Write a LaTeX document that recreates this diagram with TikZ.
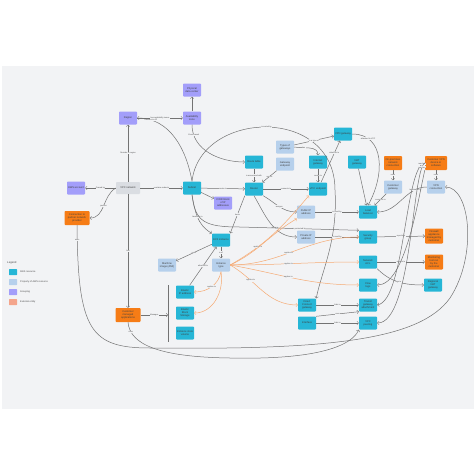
\documentclass[tikz,border=0pt]{standalone}
\usepackage{fontspec}
\setmainfont{Liberation Sans}
\definecolor{bgc}{RGB}{242,243,245}
\definecolor{awsc}{RGB}{38,182,214}
\definecolor{propc}{RGB}{182,208,236}
\definecolor{grpc}{RGB}{163,158,250}
\definecolor{extc}{RGB}{246,124,22}
\definecolor{vpcc}{RGB}{218,221,226}
\definecolor{relc}{RGB}{115,115,115}
\definecolor{depc}{RGB}{246,170,115}
\definecolor{legc}{RGB}{244,165,140}
\tikzstyle{box}=[rectangle, rounded corners=0.8pt, minimum width=18pt, minimum height=13pt, inner sep=0.5pt, align=center, text=black!75, font=\fontsize{2.6}{3}\selectfont]
\tikzstyle{res}=[box, fill=awsc]
\tikzstyle{prop}=[box, fill=propc]
\tikzstyle{grp}=[box, fill=grpc]
\tikzstyle{ext}=[box, fill=extc, minimum height=14pt]
\tikzstyle{vpcbox}=[box, fill=vpcc, minimum width=24pt, minimum height=12pt]
\tikzstyle{rel}=[draw=relc, line width=0.5pt, ->]
\tikzstyle{dep}=[draw=depc, line width=0.5pt, ->]
\tikzstyle{lbl}=[fill=bgc, inner sep=0.3pt, text=black!70, font=\fontsize{2}{2.4}\selectfont]
\tikzstyle{legkey}=[rectangle, rounded corners=0.5pt, minimum width=8pt, minimum height=6pt, inner sep=0pt]
\tikzstyle{legtxt}=[anchor=west, inner sep=0pt, text=black!70, font=\fontsize{2.4}{2.8}\selectfont]
\begin{document}
\begin{tikzpicture}[x=1pt, y=-1pt]
                    \useasboundingbox (0,0) rectangle (474,474);
                    \fill[white] (0,0) rectangle (474,474);
                    \fill[bgc] (2,66) rectangle (474,409);
                    % groupings
                    \node[grp] (dc)  at (192, 90) {Physical\\data center};
                    \node[grp] (az)  at (192,118) {Availability\\zone};
                    \node[grp] (reg) at (128,118) {Region};
                    \node[grp] (acct) at (76,188) {AWS account};
                    \node[vpcbox] (vpc) at (128,188) {VPC network};
                    \node[grp] (cidr) at (223,203) {CIDR block\\of IP\\addresses};
                    % resources
                    \node[res] (subnet) at (192,188) {Subnet};
                    \node[res] (rt)   at (254,162) {Route table};
                    \node[res] (rts)  at (254,189) {Router};
                    \node[res] (igw)  at (318,162) {Internet\\gateway};
                    \node[res] (eni)  at (318,189) {VPC endpoint};
                    \node[res] (vgw)  at (343,134) {VPN gateway};
                    \node[res] (nat)  at (357,162) {NAT\\gateway};
                    \node[res] (ec2)  at (221,240) {EC2 instance};
                    \node[res] (eip)  at (185,292) {Elastic\\IP address};
                    \node[res] (ebs)  at (185,313) {Elastic\\Block\\Storage};
                    \node[res] (ist)  at (185,333) {Instance store\\volume};
                    \node[res] (elb)  at (368,212) {Load\\balancer};
                    \node[res] (sg)   at (368,237) {Security\\group};
                    \node[res] (nacl) at (368,262) {Network\\ACL};
                    \node[res] (flow) at (368,285) {Flow\\logs};
                    \node[res] (tgw)  at (368,305) {Transit\\gateway\\attachment};
                    \node[res] (peer) at (368,323) {VPC\\peering};
                    \node[res] (dx)   at (307,305) {Direct\\Connect\\gateway};
                    \node[res] (vif)  at (307,323) {Interface};
                    \node[res] (rnat) at (433,285) {Regional\\NAT\\gateway};
                    % properties
                    \node[prop] (gwt)   at (285,147) {Types of\\gateways};
                    \node[prop] (gwe)   at (285,164) {Gateway\\endpoint};
                    \node[prop] (ami)   at (167,265) {Machine\\image (AMI)};
                    \node[prop] (itype) at (221,265) {Instance\\type};
                    \node[prop] (pub)   at (306,212) {Public IP\\address};
                    \node[prop] (priv)  at (306,237) {Private IP\\address};
                    \node[prop] (cgw)   at (393,187) {Customer\\gateway};
                    \node[prop] (vpnc)  at (436,187) {VPN\\connection};
                    % external
                    \node[ext, minimum width=25pt] (part) at (77,218) {Connection to\\partner network\\provider};
                    \node[ext, minimum width=25pt] (mng)  at (128,315) {Customer\\managed\\applications};
                    \node[ext] (onp)    at (393,163) {On-premises\\network\\connection};
                    \node[ext, minimum width=22pt] (vpndev) at (436,163) {Customer VPN\\device or\\software};
                    \node[ext, minimum height=15pt] (fw)  at (434,236) {Firewall\\appliance\\managed by\\customer};
                    \node[ext, minimum height=15pt] (mon) at (434,262) {Monitoring\\tool run\\by the\\customer};
                    % legend
                    \node[legtxt, font=\fontsize{2.8}{3.2}\selectfont] (leg) at (7,263) {Legend};
                    \node[legkey, fill=awsc]  (k1) at (13,272) {};
                    \node[legkey, fill=propc] (k2) at (13,282) {};
                    \node[legkey, fill=grpc]  (k3) at (13,292) {};
                    \node[legkey, fill=legc]  (k4) at (13,302) {};
                    \node[legtxt] (t1) at (20,272) {AWS resource};
                    \node[legtxt] (t2) at (20,282) {Property of AWS resource};
                    \node[legtxt] (t3) at (20,292) {Grouping};
                    \node[legtxt] (t4) at (20,302) {External entity};
                    % bracket for managed resources
                    \coordinate (brkT) at (168,285);
                    \coordinate (brkB) at (168,342);
                    \coordinate (brk)  at (168,315);
                    \draw[draw=relc, line width=0.5pt] (brkT) -- (brkB);
                    % relations
                    \draw[rel] (reg) -- node[lbl]{has availability zones} (az);
                    \draw[rel] (az) -- (dc);
                    \draw[rel] (vpc) -- node[lbl]{Resides in region} (reg);
                    \draw[rel] (vpc) -- node[lbl]{Owned by} (acct);
                    \draw[rel] (vpc) -- node[lbl]{contains subnets} (subnet);
                    \draw[rel] (vpc.west) to[out=-150,in=0] node[lbl]{partner} (part.east);
                    \draw[rel] (vpc) -- node[lbl]{has} (mng);
                    \draw[rel] (mng) -- node[lbl]{Manages} (brk);
                    \draw[rel] (subnet.north) to[out=100,in=0] node[lbl,pos=0.85]{Resides in AZ} (reg.east);
                    \draw[rel] (az.south) to[out=-90,in=180] node[lbl,pos=0.15]{Zone-based} (rt.west);
                    \draw[rel] (subnet.north) .. controls (200,110) and (335,105) .. node[lbl]{is routed by} (335,190)
                        .. controls (338,240) and (322,270) .. (dx.north east);
                    \draw[rel] (rt) -- node[lbl]{is associated with} (rts);
                    \draw[rel] (subnet) -- node[lbl]{routes to} (rts);
                    \draw[rel] (subnet) -- (cidr);
                    \draw[rel] (rts) -- node[lbl]{connects to} (eni);
                    \draw[rel] (rts.south east) to[out=-30,in=180] node[lbl]{assigns} (pub.west);
                    \draw[rel] (rts.south) to[out=-60,in=180] node[lbl,pos=0.6]{assigns} (priv.west);
                    \draw[rel] (rts.south west) -- node[lbl]{hosts} (ec2.north east);
                    \draw[rel] (subnet.south) to[out=-80,in=150] node[lbl]{launches in} (ec2.north west);
                    \draw[rel] (subnet.south) .. controls (195,222) and (205,227) .. (240,227)
                        -- node[lbl]{is protected by} (sg.north west);
                    \draw[rel] (ec2) -- node[lbl]{uses} (ami);
                    \draw[rel] (ec2) -- node[lbl]{is of} (itype);
                    \draw[rel] (eip) -- node[lbl]{attached to} (ec2);
                    \draw[rel] (pub) -- node[lbl]{is used by} (elb);
                    \draw[rel] (priv) -- node[lbl]{is used by} (sg);
                    \draw[rel] (igw) -- node[lbl]{routes to} (eni);
                    \draw[rel] (eni) -- node[lbl,pos=0.7]{attaches to} (vgw);
                    \draw[rel] (gwt) -- node[lbl]{is a type of} (vgw);
                    \draw[rel] (gwt.east) to[out=-10,in=90] node[lbl,pos=0.3]{has} (igw.north);
                    \draw[rel] (gwe) -- node[lbl]{serves} (rts);
                    \draw[rel] (vgw.east) .. controls (385,134) and (385,175) .. node[lbl,pos=0.2]{attached to VPC} (elb.north);
                    \draw[rel] (nat) -- (elb);
                    \draw[rel] (onp) -- node[lbl]{uses} (cgw);
                    \draw[rel] (vpndev) -- node[lbl]{uses} (vpnc);
                    \draw[rel] (cgw) -- node[lbl]{connects to} (elb);
                    \draw[rel] (vpnc.west) to[out=180,in=0] node[lbl,pos=0.2]{terminates at} (elb.east);
                    \draw[rel] (sg) -- node[lbl]{reports to} (fw);
                    \draw[rel] (nacl) -- node[lbl]{reports to} (mon);
                    \draw[rel] (nacl.south east) to[out=-45,in=180] node[lbl]{logs to} (rnat.west);
                    \draw[rel] (dx) -- node[lbl]{links to} (tgw);
                    \draw[rel] (vif) -- node[lbl]{links to} (peer);
                    \draw[rel] (vif.north east) -- node[lbl]{uses} (tgw.south west);
                    \draw[rel] (vpndev.west) .. controls (405,165) and (405,300) .. node[lbl,pos=0.05]{reaches} (tgw.east);
                    \draw[rel] (vpndev.west) .. controls (412,170) and (412,323) .. node[lbl,pos=0.08]{reaches} (peer.east);
                    \draw[rel] (vpndev.south west) .. controls (418,200) and (405,285) .. (flow.east);
                    % long connections
                    \draw[rel] (part.south) .. controls (78,330) and (90,348) .. node[lbl,pos=0.05]{uses} (150,348)
                        .. controls (330,350) and (420,340) .. (450,298)
                        .. controls (478,255) and (470,187) .. (vpnc.east);
                    \draw[rel] (mng.south) .. controls (130,345) and (160,357) .. node[lbl,pos=0.15]{uses} (230,358)
                        .. controls (320,360) and (352,345) .. (peer.south west);
                    % applies to
                    \draw[dep] (itype.east) to[out=30,in=-130] node[lbl,pos=0.3]{applies to} (eni.south west);
                    \draw[dep] (itype.east) to[out=25,in=-150] (pub.south west);
                    \draw[dep] (itype.east) to[out=0,in=180] node[lbl,pos=0.45]{applies to} (sg.west);
                    \draw[dep] (itype.east) to[out=0,in=180] node[lbl,pos=0.45]{applies to} (nacl.west);
                    \draw[dep] (itype.east) to[out=-10,in=180] node[lbl,pos=0.45]{applies to} (flow.west);
                    \draw[dep] (itype.east) to[out=-30,in=180] node[lbl,pos=0.3]{applies to} (dx.west);
                    \draw[dep] (itype.south) to[out=-100,in=0] node[lbl]{applies to} (eip.east);
                    \draw[dep] (itype.south) to[out=-80,in=0] (ebs.east);
                \end{tikzpicture}
\end{document}
